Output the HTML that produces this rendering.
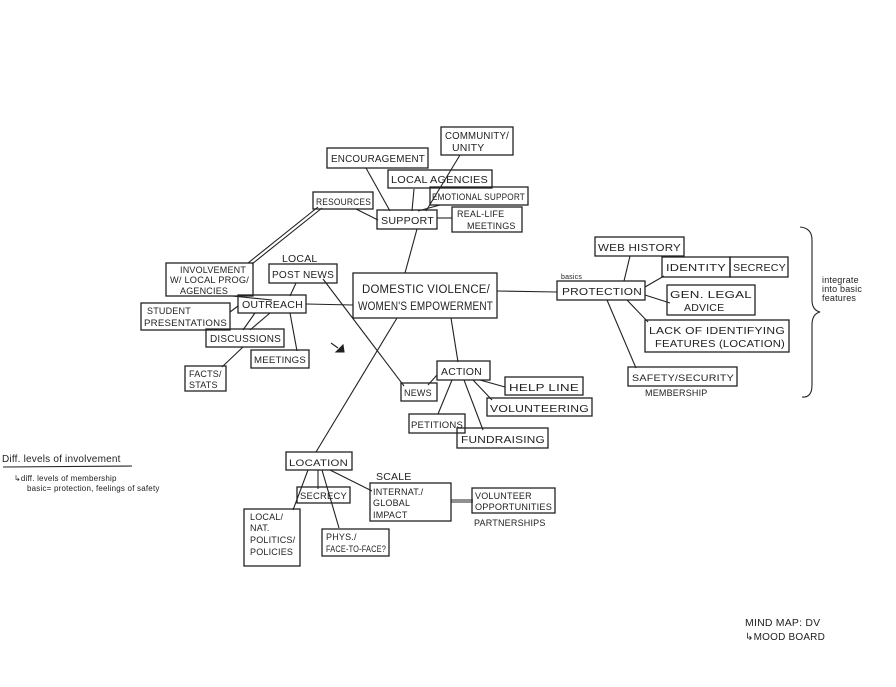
<!DOCTYPE html>
<html><head><meta charset="utf-8"><style>
html,body{margin:0;padding:0;background:#fff;}
svg{display:block}
text{font-family:"Liberation Sans",sans-serif;fill:#222;font-size:10.5px;letter-spacing:0.2px}
.s{font-size:9px}
rect{fill:none;stroke:#222;stroke-width:1.3}
line,path{stroke:#222;stroke-width:1.1;fill:none}
</style></head><body>
<svg width="896" height="687" viewBox="0 0 896 687">
<line x1="460" y1="155" x2="426" y2="211"/>
<line x1="366" y1="168" x2="390" y2="211"/>
<line x1="414" y1="189" x2="412" y2="211"/>
<line x1="440" y1="205" x2="418" y2="211"/>
<line x1="356" y1="209" x2="378" y2="220"/>
<line x1="437" y1="218" x2="452" y2="218"/>
<line x1="417" y1="229" x2="405" y2="273"/>
<line x1="318" y1="207" x2="248" y2="263"/>
<line x1="322" y1="208" x2="252" y2="264"/>
<line x1="232" y1="296" x2="272" y2="300"/>
<line x1="296" y1="283" x2="290" y2="296"/>
<line x1="306" y1="304" x2="353" y2="305"/>
<line x1="238" y1="306" x2="230" y2="312"/>
<line x1="255" y1="313" x2="243" y2="330"/>
<line x1="270" y1="313" x2="250" y2="330"/>
<line x1="290" y1="313" x2="297" y2="351"/>
<line x1="243" y1="347" x2="222" y2="367"/>
<line x1="323" y1="279" x2="404" y2="386"/>
<line x1="397" y1="318" x2="316" y2="452"/>
<line x1="451" y1="318" x2="458" y2="362"/>
<line x1="437" y1="375" x2="428" y2="385"/>
<line x1="452" y1="380" x2="438" y2="414"/>
<line x1="464" y1="380" x2="483" y2="430"/>
<line x1="473" y1="380" x2="492" y2="400"/>
<line x1="480" y1="380" x2="505" y2="387"/>
<line x1="497" y1="291" x2="557" y2="292"/>
<line x1="630" y1="256" x2="624" y2="281"/>
<line x1="645" y1="287" x2="664" y2="276"/>
<line x1="645" y1="295" x2="670" y2="303"/>
<line x1="627" y1="300" x2="648" y2="322"/>
<line x1="607" y1="300" x2="636" y2="368"/>
<line x1="308" y1="470" x2="293" y2="510"/>
<line x1="318" y1="470" x2="318" y2="489"/>
<line x1="322" y1="470" x2="339" y2="528"/>
<line x1="330" y1="470" x2="372" y2="491"/>
<line x1="451" y1="500" x2="473" y2="500"/>
<line x1="451" y1="502" x2="473" y2="502"/>
<path d="M800 227 Q812 228 812 240 L812 300 Q812 310 820 312 Q812 314 812 325 L812 385 Q812 398 802 397"/>
<line x1="331" y1="343" x2="338" y2="348"/>
<path d="M336 352 L343 345 L344 352 Z" style="fill:#222"/>
<rect x="441" y="127" width="72" height="28"/><text x="445" y="139" textLength="64" lengthAdjust="spacingAndGlyphs">COMMUNITY/</text><text x="452" y="151">UNITY</text>
<rect x="327" y="148" width="101" height="20"/><text x="331" y="162" textLength="94" lengthAdjust="spacingAndGlyphs">ENCOURAGEMENT</text>
<rect x="388" y="170" width="104" height="18"/><text x="391" y="183" textLength="97" lengthAdjust="spacingAndGlyphs">LOCAL AGENCIES</text>
<rect x="430" y="187" width="98" height="18"/><text x="432" y="200" class="s" textLength="93" lengthAdjust="spacingAndGlyphs">EMOTIONAL SUPPORT</text>
<rect x="313" y="192" width="60" height="17"/><text x="316" y="205" class="s" textLength="55" lengthAdjust="spacingAndGlyphs">RESOURCES</text>
<rect x="377" y="210" width="60" height="19"/><text x="381" y="224" textLength="53" lengthAdjust="spacingAndGlyphs">SUPPORT</text>
<rect x="452" y="207" width="70" height="25"/><text x="457" y="217" class="s">REAL-LIFE</text><text x="467" y="229" class="s">MEETINGS</text>
<rect x="166" y="263" width="87" height="33"/><text x="180" y="273" class="s">INVOLVEMENT</text><text x="170" y="283" class="s" textLength="79" lengthAdjust="spacingAndGlyphs">W/ LOCAL PROG/</text><text x="180" y="294" class="s">AGENCIES</text>
<text x="282" y="262">LOCAL</text>
<rect x="269" y="264" width="68" height="19"/><text x="272" y="278" textLength="62" lengthAdjust="spacingAndGlyphs">POST NEWS</text>
<rect x="353" y="273" width="144" height="45"/><text x="362" y="293" style="font-size:11.5px" textLength="128" lengthAdjust="spacingAndGlyphs">DOMESTIC VIOLENCE/</text><text x="358" y="310" style="font-size:11.5px" textLength="135" lengthAdjust="spacingAndGlyphs">WOMEN'S EMPOWERMENT</text>
<rect x="238" y="295" width="68" height="18"/><text x="242" y="308" textLength="61" lengthAdjust="spacingAndGlyphs">OUTREACH</text>
<rect x="141" y="303" width="89" height="27"/><text x="147" y="314" class="s">STUDENT</text><text x="144" y="326" class="s" textLength="83" lengthAdjust="spacingAndGlyphs">PRESENTATIONS</text>
<rect x="206" y="329" width="78" height="18"/><text x="210" y="342" textLength="71" lengthAdjust="spacingAndGlyphs">DISCUSSIONS</text>
<rect x="251" y="350" width="58" height="18"/><text x="254" y="363" class="s" textLength="52" lengthAdjust="spacingAndGlyphs">MEETINGS</text>
<rect x="185" y="366" width="41" height="25"/><text x="189" y="377" class="s">FACTS/</text><text x="189" y="388" class="s">STATS</text>
<rect x="437" y="361" width="53" height="19"/><text x="441" y="375">ACTION</text>
<rect x="401" y="383" width="36" height="18"/><text x="404" y="396" class="s">NEWS</text>
<rect x="505" y="377" width="78" height="18"/><text x="509" y="391" textLength="70" lengthAdjust="spacingAndGlyphs">HELP LINE</text>
<rect x="487" y="398" width="105" height="18"/><text x="490" y="412" textLength="99" lengthAdjust="spacingAndGlyphs">VOLUNTEERING</text>
<rect x="409" y="414" width="56" height="19"/><text x="411" y="428" class="s" textLength="52" lengthAdjust="spacingAndGlyphs">PETITIONS</text>
<rect x="457" y="428" width="91" height="20"/><text x="461" y="443" textLength="84" lengthAdjust="spacingAndGlyphs">FUNDRAISING</text>
<text x="561" y="279" style="font-size:7px">basics</text>
<rect x="557" y="281" width="88" height="19"/><text x="562" y="295" textLength="80" lengthAdjust="spacingAndGlyphs">PROTECTION</text>
<rect x="595" y="237" width="89" height="19"/><text x="598" y="251" textLength="83" lengthAdjust="spacingAndGlyphs">WEB HISTORY</text>
<rect x="662" y="257" width="68" height="20"/><text x="666" y="271" textLength="60" lengthAdjust="spacingAndGlyphs">IDENTITY</text>
<rect x="730" y="257" width="58" height="20"/><text x="733" y="271" textLength="53" lengthAdjust="spacingAndGlyphs">SECRECY</text>
<rect x="667" y="285" width="88" height="30"/><text x="670" y="298" textLength="82" lengthAdjust="spacingAndGlyphs">GEN. LEGAL</text><text x="684" y="311">ADVICE</text>
<rect x="645" y="320" width="144" height="32"/><text x="649" y="334" textLength="136" lengthAdjust="spacingAndGlyphs">LACK OF IDENTIFYING</text><text x="655" y="347" textLength="130" lengthAdjust="spacingAndGlyphs">FEATURES (LOCATION)</text>
<rect x="628" y="367" width="109" height="19"/><text x="632" y="381" class="s" textLength="102" lengthAdjust="spacingAndGlyphs">SAFETY/SECURITY</text>
<text x="645" y="396" class="s">MEMBERSHIP</text>
<text x="822" y="283" style="font-size:9px">integrate</text><text x="822" y="292" style="font-size:9px">into basic</text><text x="822" y="301" style="font-size:9px">features</text>
<rect x="286" y="452" width="66" height="18"/><text x="289" y="466" class="s" textLength="59" lengthAdjust="spacingAndGlyphs">LOCATION</text>
<rect x="297" y="487" width="53" height="16"/><text x="300" y="499" class="s" textLength="47" lengthAdjust="spacingAndGlyphs">SECRECY</text>
<rect x="244" y="509" width="56" height="57"/><text x="250" y="520" class="s">LOCAL/</text><text x="250" y="531" class="s">NAT.</text><text x="250" y="543" class="s">POLITICS/</text><text x="250" y="555" class="s">POLICIES</text>
<rect x="322" y="529" width="67" height="27"/><text x="326" y="540" class="s">PHYS./</text><text x="326" y="552" class="s" textLength="60" lengthAdjust="spacingAndGlyphs">FACE-TO-FACE?</text>
<text x="376" y="480">SCALE</text>
<rect x="370" y="483" width="81" height="38"/><text x="373" y="495" class="s">INTERNAT./</text><text x="373" y="506" class="s">GLOBAL</text><text x="373" y="518" class="s">IMPACT</text>
<rect x="472" y="488" width="83" height="25"/><text x="475" y="499" class="s">VOLUNTEER</text><text x="475" y="510" class="s" textLength="77" lengthAdjust="spacingAndGlyphs">OPPORTUNITIES</text>
<text x="474" y="526" class="s">PARTNERSHIPS</text>
<text x="2" y="462" style="font-size:10px">Diff. levels of involvement</text>
<line x1="3" y1="467" x2="132" y2="466"/>
<text x="14" y="481" style="font-size:8px">↳diff. levels of membership</text>
<text x="27" y="491" style="font-size:8px">basic= protection, feelings of safety</text>
<text x="745" y="626" style="font-size:10.5px">MIND MAP: DV</text>
<text x="745" y="640" style="font-size:10px">↳MOOD BOARD</text>
</svg>
</body></html>
